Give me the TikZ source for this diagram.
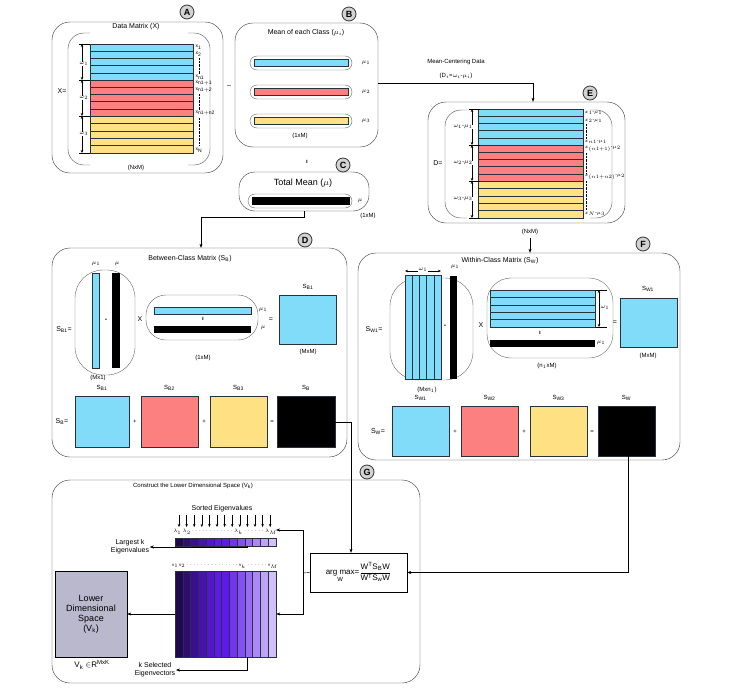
\documentclass[tikz,border=0pt]{standalone}
\usepackage{amsmath}
\usepackage{fontspec}
\setmainfont{Liberation Sans}
\usetikzlibrary{arrows.meta, positioning}
\definecolor{cblue}{RGB}{128,220,248}
\definecolor{cred}{RGB}{252,128,128}
\definecolor{cyel}{RGB}{253,225,130}
\definecolor{violetc}{RGB}{95,25,235}
\definecolor{lowgray}{RGB}{186,184,204}
\definecolor{edge}{RGB}{40,50,60}
\tikzset{
  bigbox/.style={draw=black!80, rounded corners=18pt, inner sep=0pt},
  tag/.style={circle, draw=black!80, thick, fill=gray!35, inner sep=1pt, minimum size=14pt, font=\bfseries\fontsize{9}{9}\selectfont},
  lbl/.style={font=\fontsize{6}{7}\selectfont, inner sep=0.5pt},
  ttl/.style={font=\fontsize{7}{8}\selectfont, inner sep=0.5pt},
  pill/.style={draw=black!60, rounded corners=7pt},
  arrow/.style={-{Stealth[length=4pt,width=3pt]}},
  mline/.style={draw=edge, line width=0.5pt}
}
% horizontal rows: x0,x1,y0,y1,rows,colour
\newcommand{\hrows}[6]{%
  \fill[#6] (#1,#3) rectangle (#2,#4);
  \foreach \k in {0,...,#5} \draw[mline] (#1,{#3+(#4-#3)*\k/#5}) -- (#2,{#3+(#4-#3)*\k/#5});
  \draw[mline] (#1,#3) rectangle (#2,#4);}
% vertical columns: x0,x1,y0,y1,cols,colour
\newcommand{\vcols}[6]{%
  \fill[#6] (#1,#3) rectangle (#2,#4);
  \foreach \k in {0,...,#5} \draw[mline] ({#1+(#2-#1)*\k/#5},#3) -- ({#1+(#2-#1)*\k/#5},#4);
  \draw[mline] (#1,#3) rectangle (#2,#4);}
% bracket pair: x0,x1,y0,y1
\newcommand{\parens}[4]{%
  \draw[black!70, rounded corners=16pt] (#1+22,#3) -- (#1,#3) -- (#1,#4) -- (#1+22,#4);
  \draw[black!70, rounded corners=16pt] (#2-22,#3) -- (#2,#3) -- (#2,#4) -- (#2-22,#4);}
\newcommand{\sizebar}[3]{% x, y0, y1
  \draw[{Stealth[length=3pt,width=2.5pt]}-{Stealth[length=3pt,width=2.5pt]}] (#1,#2) -- (#1,#3);
  \draw (#1-3,#2) -- (#1+8,#2); \draw (#1-3,#3) -- (#1+8,#3);}
\begin{document}
\begin{tikzpicture}[x=1pt, y=-1pt]
\useasboundingbox (0,0) rectangle (750,696);

%------------------A: data matrix------------------
\node[bigbox, minimum width=171pt, minimum height=151pt] (boxA) at (137.5,97.5) {};
\node[tag] at (187,12) {A};
\node[ttl] at (136,27) {Data Matrix (X)};
\parens{68}{210}{33}{165}
\hrows{90}{193}{44}{80}{5}{cblue}
\hrows{90}{193}{80}{116}{5}{cred}
\hrows{90}{193}{116}{153}{5}{cyel}
\sizebar{82}{44}{80} \sizebar{82}{80}{116} \sizebar{82}{116}{153}
\node[lbl, fill=white] at (84,64) {$\omega_1$};
\node[lbl, fill=white] at (84,98) {$\omega_2$};
\node[lbl, fill=white] at (84,134) {$\omega_3$};
\node[ttl] at (62,91) {X=};
\foreach \yy/\tx in {47/x_1, 54/x_2, 77/x_{n1}, 83/x_{n1+1}, 90/x_{n1+2}, 113/x_{n1+n2}, 150/x_N}
  \node[lbl, anchor=west, font=\fontsize{5}{5}\selectfont] at (195,\yy) {$\mathrm{\tx}$};
\draw[densely dotted] (199,58) -- (199,74) (199,94) -- (199,110) (199,118) -- (199,146);
\node[lbl] at (136,168) {(NxM)};
\node[ttl] at (229,86) {--};

%------------------B: class means------------------
\node[bigbox, minimum width=143pt, minimum height=124pt] (boxB) at (306.5,85) {};
\node[tag] at (349,14) {B};
\node[ttl] at (306,33) {Mean of each Class ($\mu_i$)};
\foreach \yc/\cc/\ii in {63/cblue/1, 92/cred/2, 121/cyel/3} {
  \draw[pill] (250,\yc-7) rectangle (352,\yc+7);
  \fill[\cc] (254,\yc-3.5) rectangle (348,\yc+3.5);
  \draw[mline] (254,\yc-3.5) rectangle (348,\yc+3.5);
  \node[lbl] at (366,\yc) {$\mu_{\ii}$};
}
\node[lbl] at (300,136) {(1xM)};
\node[lbl] at (307,162) {\textbf{ı}};

%------------------C: total mean------------------
\node[bigbox, minimum width=130pt, minimum height=39pt, rounded corners=16pt] (boxC) at (304,191.5) {};
\node[tag] at (343,165) {C};
\node[font=\fontsize{9}{10}\selectfont] at (303,183) {Total Mean ($\mu$)};
\draw[pill] (248,194) rectangle (352,208);
\fill[black] (252,197) rectangle (350,205);
\node[lbl] at (360,201) {$\mu$};
\node[lbl] at (368,216) {(1xM)};

%------------------E: centred data------------------
\node[bigbox, minimum width=197pt, minimum height=121pt] (boxE) at (526.5,162.5) {};
\node[tag] at (590,93) {E};
\parens{445}{612}{110}{218}
\hrows{478}{583}{109}{145}{5}{cblue}
\hrows{478}{583}{145}{181}{5}{cred}
\hrows{478}{583}{181}{218}{5}{cyel}
\sizebar{472}{109}{145} \sizebar{472}{145}{181} \sizebar{472}{181}{218}
\node[lbl, fill=white] at (463,127) {$\omega_1$-$\mu_1$};
\node[lbl, fill=white] at (463,163) {$\omega_2$-$\mu_2$};
\node[lbl, fill=white] at (463,199) {$\omega_3$-$\mu_3$};
\node[ttl] at (438,163) {D=};
\foreach \yy/\tx in {113/x_1\text{-}\mu_1, 121/x_2\text{-}\mu_1, 142/x_{n1}\text{-}\mu_1, 149/x_{(n1+1)}\text{-}\mu_2, 177/x_{(n1+n2)}\text{-}\mu_2, 214/x_N\text{-}\mu_3}
  \node[lbl, anchor=west, font=\fontsize{5}{5}\selectfont] at (584,\yy) {$\tx$};
\draw[densely dotted] (586,124) -- (586,139) (586,153) -- (586,173) (586,181) -- (586,210);
\node[lbl] at (530,232) {(NxM)};
\node[lbl] at (456,62) {Mean-Centering Data};
\node[lbl] at (456,76) {(D$_i$=$\omega_i$-$\mu_i$)};
\coordinate (bend1) at (533,83);
\draw[arrow] (boxB.east |- bend1) -- (bend1) -- (bend1 |- boxE.north);

%------------------D: between-class------------------
\node[bigbox, minimum width=295pt, minimum height=209pt] (boxD) at (199.5,352.5) {};
\node[tag] at (305,240) {D};
\node[ttl] at (190,259) {Between-Class Matrix (S$_\mathrm{B}$)};
\draw[black!60, rounded corners=28pt] (75,270) rectangle (135,375);
\fill[cblue] (92,273) rectangle (99,368); \draw[mline] (92,273) rectangle (99,368);
\fill[black] (112,273) rectangle (120,368);
\node[lbl] at (96,264) {$\mu_1$};
\node[lbl] at (117,264) {$\mu$};
\node[ttl] at (106,320) {\textbf{-}};
\node[ttl] at (64,330) {S$_\mathrm{B1}$=};
\node[lbl] at (98,378) {(Mx1)};
\node[ttl] at (140,319) {X};
\draw[black!60, rounded corners=20pt] (146,295) rectangle (258,340);
\fill[cblue] (154,307) rectangle (251,314); \draw[mline] (154,307) rectangle (251,314);
\fill[black] (154,326) rectangle (251,333);
\node[lbl] at (203,319) {\textbf{ı}};
\node[lbl] at (263,310) {$\mu_1$};
\node[lbl] at (263,328) {$\mu$};
\node[ttl] at (271,320) {=};
\node[lbl] at (203,358) {(1xM)};
\fill[cblue] (279,295) rectangle (336,344); \draw[mline] (279,295) rectangle (336,344);
\node[lbl] at (308,287) {S$_\mathrm{B1}$};
\node[lbl] at (308,352) {(MxM)};
\node[ttl] at (62,422) {S$_\mathrm{B}$=};
\foreach \xa/\xb/\cc/\tx in {75/129/cblue/B1, 141/198/cred/B2, 210/267/cyel/B3, 277/335/black/B} {
  \fill[\cc] (\xa,396) rectangle (\xb,447); \draw[mline] (\xa,396) rectangle (\xb,447);
  \node[lbl] at ({(\xa+\xb)/2},388) {S$_\mathrm{\tx}$};
}
\node (sbsum) at (306,422) [inner sep=0pt, minimum width=58pt] {};
\node[lbl] at (135,422) {+}; \node[lbl] at (204,422) {+}; \node[lbl] at (272,422) {=};

%------------------F: within-class------------------
\node[bigbox, minimum width=322pt, minimum height=207pt] (boxF) at (519,356.5) {};
\node[tag] at (643,244) {F};
\node[ttl] at (500,261) {Within-Class Matrix (S$_\mathrm{W}$)};
\coordinate (nxm) at (530,238);
\draw[arrow] (nxm) -- (nxm |- boxF.north);
\draw[black!60, rounded corners=28pt] (390,278) rectangle (473,380);
\vcols{405}{441}{275}{379}{5}{cblue}
\draw[{Stealth[length=3pt,width=2.5pt]}-{Stealth[length=3pt,width=2.5pt]}] (405,271) -- (441,271);
\node[lbl, fill=white] at (423,270) {$\omega_1$};
\fill[black] (450,276) rectangle (457,379);
\node[lbl] at (455,267) {$\mu_1$};
\node[ttl] at (445,326) {\textbf{-}};
\node[ttl] at (374,330) {S$_\mathrm{W1}$=};
\node[lbl] at (427,390) {(Mxn$_1$)};
\node[ttl] at (481,325) {X};
\draw[black!60, rounded corners=24pt] (487,278) rectangle (613,358);
\hrows{490}{595}{290}{327}{5}{cblue}
\sizebar{599}{290}{327}
\node[lbl, fill=white] at (605,308) {$\omega_1$};
\node[lbl] at (540,333) {\textbf{ı}};
\fill[black] (490,340) rectangle (595,347);
\node[lbl] at (601,343) {$\mu_1$};
\node[lbl] at (547,366) {(n$_1$xM)};
\node[ttl] at (615,323) {=};
\fill[cblue] (620,298) rectangle (677,347); \draw[mline] (620,298) rectangle (677,347);
\node[lbl] at (648,289) {S$_\mathrm{W1}$};
\node[lbl] at (648,356) {(MxM)};
\node[ttl] at (378,432) {S$_\mathrm{W}$=};
\foreach \xa/\xb/\cc/\tx in {392/449/cblue/W1, 461/518/cred/W2, 530/587/cyel/W3, 598/655/black/W} {
  \fill[\cc] (\xa,406) rectangle (\xb,456); \draw[mline] (\xa,406) rectangle (\xb,456);
  \node[lbl] at ({(\xa+\xb)/2},398) {S$_\mathrm{\tx}$};
}
\node (swsum) at (628,431) [inner sep=0pt, minimum height=50pt] {};
\node[lbl] at (455,432) {+}; \node[lbl] at (524,432) {+}; \node[lbl] at (592,432) {=};

%------------------C to D------------------
\coordinate (bend2) at (201,217);
\draw[arrow] (boxC.south) |- (bend2) -- (bend2 |- boxD.north);

%------------------G: lower space------------------
\node[bigbox, minimum width=368pt, minimum height=203pt] (boxG) at (236,581.5) {};
\node[tag] at (367,472) {G};
\node[lbl] at (193,486) {Construct the Lower Dimensional Space (V$_\mathrm{k}$)};
\node[lbl, font=\fontsize{7}{8}\selectfont] at (222,509) {Sorted Eigenvalues};
\foreach \i in {0,...,12}
  \draw[-{Stealth[length=3pt,width=2.5pt]}] ({179+\i*7.6},515) -- ({179+\i*7.6},527);
\node[lbl, font=\fontsize{4.5}{5}\selectfont] at (225,532) {$\lambda_1\,\lambda_2\cdots\cdots\cdots\cdots\lambda_k\cdots\cdots\lambda_M$};
\foreach \i in {0,...,12} {
  \ifnum\i<6 \pgfmathtruncatemacro\p{35+13*\i}\colorlet{cellc}{violetc!\p!black}
  \else \pgfmathtruncatemacro\p{100-12*(\i-6)}\colorlet{cellc}{violetc!\p!white}\fi
  \fill[cellc] ({175+\i*7.77},538) rectangle ++(7.77,8); \draw[mline] ({175+\i*7.77},538) rectangle ++(7.77,8);
  \fill[cellc] ({175+\i*7.77},571) rectangle ++(7.77,86); \draw[mline] ({175+\i*7.77},571) rectangle ++(7.77,86);
}
\node (evals) at (225.5,542) [minimum width=101pt, minimum height=8pt, inner sep=0pt] {};
\node (evecs) at (225.5,614) [minimum width=101pt, minimum height=86pt, inner sep=0pt] {};
\node[lbl, font=\fontsize{4.5}{5}\selectfont] at (225,566) {v$_1$\,v$_2\cdots\cdots\cdots\cdots\cdots$v$_k\cdots\cdots$v$_M$};
\node[lbl, align=center, font=\fontsize{7}{8}\selectfont] (largest) at (130,547) {Largest k\\Eigenvalues};
\coordinate (kval) at (247,546);
\draw[arrow] (kval) |- (largest.east);
\node[lbl, align=center, font=\fontsize{7}{8}\selectfont] (ksel) at (155,670) {k Selected\\Eigenvectors};
\node[draw, fill=lowgray, minimum width=72pt, minimum height=86pt, align=center, font=\fontsize{9}{10}\selectfont] (lower) at (91,614) {Lower\\Dimensional\\Space\\(V$_\mathrm{k}$)};
\coordinate (kvec) at (247,657);
\draw[arrow] (kvec) |- (ksel.east);
\node[lbl, font=\fontsize{8}{9}\selectfont] at (92,665) {V$_\mathrm{k}\in$R$^{\mathrm{MxK}}$};
\draw[arrow] (evecs.west) -- (lower.east);
\node[draw, fill=white, inner sep=2pt, font=\fontsize{8}{9}\selectfont, minimum width=97pt, minimum height=39pt] (argmax) at (358.5,572.5)
  {$\underset{\mathrm{W}}{\mathrm{arg\ max}}$=$\dfrac{\mathrm{W^TS_BW}}{\mathrm{W^TS_wW}}$};
\coordinate (split) at (303,573);
\coordinate (lamM) at (276,530);
\draw (argmax.west) -- (split);
\draw[arrow] (split) |- (lamM);
\draw[arrow] (split) |- (evecs.east);
\coordinate (sbturn) at (351,422);
\draw[arrow] (sbsum.east) -- (sbturn) -- (sbturn |- argmax.north);
\draw[arrow] (swsum.south) |- (argmax.east);
\end{tikzpicture}
\end{document}
